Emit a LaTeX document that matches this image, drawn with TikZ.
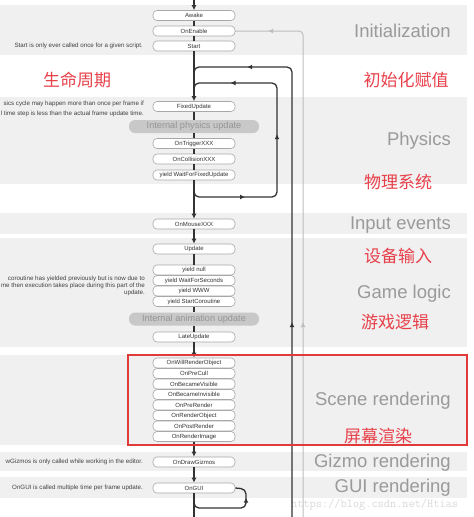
\documentclass[tikz,border=0pt]{standalone}
\usepackage{fontspec}
\setmainfont{Liberation Sans}
\newfontfamily\cjk{Noto Sans CJK SC}
\usetikzlibrary{arrows.meta,decorations.markings}
\definecolor{band}{HTML}{F0F0F0}
\definecolor{lbl}{HTML}{9A9A9A}
\definecolor{cnred}{HTML}{E8404A}
\definecolor{redbox}{HTML}{E03A3A}
\definecolor{pillc}{HTML}{C8C8C8}
\definecolor{nodeb}{HTML}{A8A8A8}
\definecolor{lineD}{HTML}{333333}
\definecolor{lineG}{HTML}{BDBDBD}
\newcommand\mytip{\arrow{Latex[length=5pt,width=5pt]}}
\tikzset{
  fn/.style={draw=nodeb, line width=0.6pt, fill=white, rounded corners=4pt,
    minimum width=82pt, minimum height=10pt, inner sep=0pt,
    font=\fontsize{6}{7}\selectfont, text=black!80},
  pillbox/.style={fill=pillc, rounded corners=6pt, minimum width=130pt,
    minimum height=13pt, inner sep=0pt, font=\fontsize{9.2}{10}\selectfont, text=black!42},
  sect/.style={font=\fontsize{18.5}{20}\selectfont, text=lbl, anchor=east, inner sep=0pt},
  cn/.style={font=\cjk\fontsize{17}{18}\selectfont, text=cnred, inner sep=0pt},
  note/.style={font=\fontsize{6.2}{7}\selectfont, text=black!75, anchor=east, inner sep=0pt},
  bandbox/.style={fill=band, draw=none},
  mainl/.style={color=lineD, line width=1.3pt},
  arr/.style={mainl, -{Latex[length=5pt,width=5pt]}},
  greyl/.style={color=lineG, line width=1pt},
  marks/.style={postaction={decorate,decoration={markings,#1}}}
}
\begin{document}
\begin{tikzpicture}[x=1pt,y=-1pt]
\useasboundingbox (0,0) rectangle (474,517);
% bands
\fill[bandbox] (0,5) rectangle (467,55);
\fill[bandbox] (0,97) rectangle (467,184);
\fill[bandbox] (0,213) rectangle (467,234);
\fill[bandbox] (0,238) rectangle (467,347);
\fill[bandbox] (0,355) rectangle (467,445);
\fill[bandbox] (0,452) rectangle (467,471);
\fill[bandbox] (0,477) rectangle (467,498);

% section labels
\node[sect] (l1) at (451,31) {Initialization};
\node[sect] (l2) at (451,141) {Physics};
\node[sect] (l3) at (451,225) {Input events};
\node[sect] (l4) at (451,294) {Game logic};
\node[sect] (l5) at (451,401) {Scene rendering};
\node[sect] (l6) at (451,463) {Gizmo rendering};
\node[sect] (l7) at (451,488) {GUI rendering};

% chinese labels
\node[cn] (c0) at (77,80) {生命周期};
\node[cn] (c1) at (406,80) {初始化赋值};
\node[cn] (c2) at (398,182) {物理系统};
\node[cn] (c3) at (398,256) {设备输入};
\node[cn] (c4) at (395,322) {游戏逻辑};
\node[cn] (c5) at (378,436) {屏幕渲染};

% watermark
\node[font=\ttfamily\fontsize{12}{12}\selectfont, text=black!15, anchor=west, inner sep=0pt] (wm) at (291,505) {https://blog.csdn.net/Htias};

% free coordinates
\coordinate (top) at (194,0);
\coordinate (bot) at (194,517);
\coordinate (o1) at (292,517);
\coordinate (o2) at (292,67);
\coordinate (o3) at (194,67);
\coordinate (o4) at (194,80);
\coordinate (i0) at (194,188);
\coordinate (i1) at (194,197);
\coordinate (i2) at (277,197);
\coordinate (i3) at (277,83);
\coordinate (i4) at (194,83);
\coordinate (i5) at (194,92);
\coordinate (g0) at (194,500);
\coordinate (g1) at (194,508);
\coordinate (g2) at (246,508);
\coordinate (g3) at (246,489);
\coordinate (e1) at (303,517);
\coordinate (e2) at (303,31);

% loops (behind nodes)
\draw[greyl, rounded corners=4pt, marks={mark=at position 0.353 with {\arrow{Latex[length=5pt,width=5pt]}}, mark=at position 0.94 with {\arrow{Latex[length=5pt,width=5pt]}}}]
  (e1) -- (e2) -- (235,31);
\draw[mainl, rounded corners=5pt, marks={mark=at position 0.35 with {\mytip}, mark=at position 0.885 with {\mytip}}]
  (o1) -- (o2) -- (o3) -- (o4);
\draw[mainl, rounded corners=5pt, marks={mark=at position 0.2 with {\mytip}, mark=at position 0.52 with {\mytip}, mark=at position 0.85 with {\mytip}}]
  (i0) -- (i1) -- (i2) -- (i3) -- (i4) -- (i5);

% nodes
\node[fn] (awake) at (194,15.5) {Awake};
\node[fn] (onenable) at (194,31) {OnEnable};
\node[fn] (start) at (194,46) {Start};
\node[fn] (fixed) at (194,106.5) {FixedUpdate};
\node[pillbox] (ipu) at (194,126.5) {Internal physics update};
\node[fn] (trig) at (194,143.5) {OnTriggerXXX};
\node[fn] (coll) at (194,159) {OnCollisionXXX};
\node[fn] (wait) at (194,175) {yield WaitForFixedUpdate};
\node[fn] (mouse) at (194,224) {OnMouseXXX};
\node[fn] (update) at (194,249) {Update};
\node[fn] (ynull) at (194,270) {yield null};
\node[fn] (ywfs) at (194,280.5) {yield WaitForSeconds};
\node[fn] (ywww) at (194,291) {yield WWW};
\node[fn] (ysc) at (194,301.5) {yield StartCoroutine};
\node[pillbox] (iau) at (194,319) {Internal animation update};
\node[fn] (late) at (194,337) {LateUpdate};
\node[fn] (s1) at (194,363) {OnWillRenderObject};
\node[fn] (s2) at (194,373.5) {OnPreCull};
\node[fn] (s3) at (194,384) {OnBecameVisible};
\node[fn] (s4) at (194,394.5) {OnBecameInvisible};
\node[fn] (s5) at (194,405) {OnPreRender};
\node[fn] (s6) at (194,415.5) {OnRenderObject};
\node[fn] (s7) at (194,426) {OnPostRender};
\node[fn] (s8) at (194,436.5) {OnRenderImage};
\node[fn] (gizmo) at (194,462) {OnDrawGizmos};
\node[fn] (gui) at (194,488) {OnGUI};

% main flow
\draw[arr] (top) -- (awake);
\draw[mainl] (awake) -- (onenable);
\draw[mainl] (onenable) -- (start);
\draw[arr] (start) -- (fixed);
\draw[mainl] (fixed) -- (ipu);
\draw[mainl] (ipu) -- (trig);
\draw[mainl] (trig) -- (coll);
\draw[mainl] (coll) -- (wait);
\draw[arr] (wait) -- (mouse);
\draw[arr] (mouse) -- (update);
\draw[mainl] (update) -- (ynull);
\draw[mainl] (ysc) -- (iau);
\draw[mainl] (iau) -- (late);
\draw[arr] (late) -- (s1);
\draw[arr] (s8) -- (gizmo);
\draw[arr] (gizmo) -- (gui);
\draw[mainl] (gui) -- (bot);
\draw[mainl, rounded corners=5pt, marks={mark=at position 0.79 with {\mytip}}]
  (g0) -- (g1) -- (g2) -- (g3) -- (gui.east);

% red box
\draw[redbox, line width=1.5pt] (128,355) rectangle (467,445);

% notes
\node[note] (n1) at (143,46) {Start is only ever called once for a given script.};
\node[note] (n2) at (144,104) {sics cycle may happen more than once per frame if};
\node[note] (n3) at (144,114) {l time step is less than the actual frame update time.};
\node[note] (n4) at (145,279) {coroutine has yielded previously but is now due to};
\node[note] (n5) at (145,286) {me then execution takes place during this part of the};
\node[note] (n6) at (145,293) {update.};
\node[note] (n7) at (143,462) {wGizmos is only called while working in the editor.};
\node[note] (n8) at (143,488) {OnGUI is called multiple time per frame update.};
\end{tikzpicture}
\end{document}
